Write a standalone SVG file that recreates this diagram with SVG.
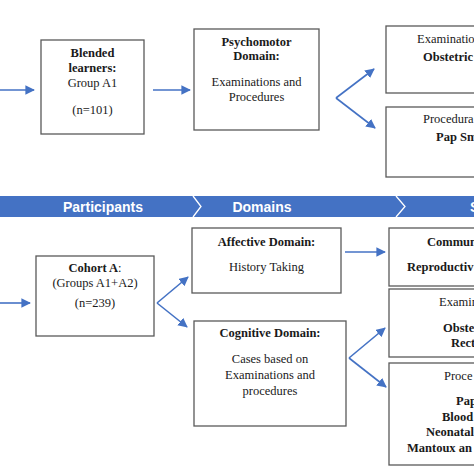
<svg xmlns="http://www.w3.org/2000/svg" width="474" height="474" viewBox="0 0 474 474">
<defs>
<marker id="ah" viewBox="0 0 10 10" refX="9" refY="5" markerWidth="6" markerHeight="6" markerUnits="strokeWidth" orient="auto">
<path d="M0,0 L10,5 L0,10 z" fill="#4472C4"/>
</marker>
<style>
.box{fill:#fff;stroke:#595959;stroke-width:1.3}
.t{font-family:"Liberation Serif","Times New Roman",serif;font-size:12.5px;fill:#1a1a1a}
.b{font-weight:bold}
.c{text-anchor:middle}
.con{fill:none;stroke:#4472C4;stroke-width:1.6;marker-end:url(#ah)}
.bt{font-family:"Liberation Sans",Arial,sans-serif;font-size:14px;font-weight:bold;fill:#fff;text-anchor:middle}
</style>
</defs>
<rect width="474" height="474" fill="#fff"/>

<g id="banner">
<rect x="0" y="196" width="474" height="21" fill="#4472C4"/>
<polyline points="193,196 201,206.5 193,217" fill="none" stroke="#fff" stroke-width="1.3"/>
<polyline points="396,196 405,206.5 396,217" fill="none" stroke="#fff" stroke-width="1.3"/>
<text class="bt" x="103" y="212">Participants</text>
<text class="bt" x="262" y="212">Domains</text>
<text class="bt" x="470" y="212" style="text-anchor:start">S</text>
</g>

<g id="connectors">
<line class="con" x1="0" y1="90" x2="34" y2="90"/>
<line class="con" x1="153" y1="90" x2="190" y2="90"/>
<line class="con" x1="336" y1="98" x2="374" y2="69"/>
<line class="con" x1="336" y1="98" x2="375" y2="128"/>
<line class="con" x1="0" y1="303" x2="30" y2="303"/>
<line class="con" x1="157" y1="303" x2="188" y2="277"/>
<line class="con" x1="157" y1="303" x2="187" y2="327"/>
<line class="con" x1="345" y1="252" x2="385" y2="252"/>
<line class="con" x1="349" y1="358" x2="385" y2="328"/>
<line class="con" x1="349" y1="358" x2="386" y2="387"/>
</g>

<g id="blended">
<rect class="box" x="41" y="40" width="103" height="94"/>
<text class="t b c" x="92.5" y="57">Blended</text>
<text class="t b c" x="92.5" y="72">learners:</text>
<text class="t c" x="92.5" y="87">Group A1</text>
<text class="t c" x="92.5" y="114">(n=101)</text>
</g>

<g id="psychomotor">
<rect class="box" x="194" y="29" width="125" height="101"/>
<text class="t b c" x="256.5" y="46">Psychomotor</text>
<text class="t b c" x="256.5" y="60">Domain:</text>
<text class="t c" x="256.5" y="86">Examinations and</text>
<text class="t c" x="256.5" y="101">Procedures</text>
</g>

<g id="examination-top">
<rect class="box" x="386" y="26" width="100" height="67"/>
<text class="t" x="417" y="43">Examinatio</text>
<text class="t b" x="423" y="61">Obstetric</text>
</g>

<g id="procedural-top">
<rect class="box" x="386" y="107" width="100" height="70"/>
<text class="t" x="423" y="123">Procedura</text>
<text class="t b" x="436" y="141">Pap Sm</text>
</g>

<g id="cohort">
<rect class="box" x="36" y="256" width="118" height="80"/>
<text class="t c" x="95" y="272"><tspan font-weight="bold">Cohort A</tspan>:</text>
<text class="t c" x="95" y="287">(Groups A1+A2)</text>
<text class="t c" x="95" y="307">(n=239)</text>
</g>

<g id="affective">
<rect class="box" x="192" y="228" width="149" height="65"/>
<text class="t b c" x="266.5" y="246">Affective Domain:</text>
<text class="t c" x="266.5" y="271">History Taking</text>
</g>

<g id="cognitive">
<rect class="box" x="194" y="321" width="152" height="105"/>
<text class="t b c" x="270" y="337">Cognitive Domain:</text>
<text class="t c" x="270" y="363">Cases based on</text>
<text class="t c" x="270" y="379">Examinations and</text>
<text class="t c" x="270" y="395">procedures</text>
</g>

<g id="communication">
<rect class="box" x="389" y="228" width="100" height="58"/>
<text class="t b" x="427" y="246">Commun</text>
<text class="t b" x="407" y="271">Reproductiv</text>
</g>

<g id="examination-bottom">
<rect class="box" x="389" y="289" width="100" height="68"/>
<text class="t" x="439" y="306">Examin</text>
<text class="t b" x="443" y="332">Obste</text>
<text class="t b" x="451" y="347">Rect</text>
</g>

<g id="procedural-bottom">
<rect class="box" x="389" y="363" width="100" height="102"/>
<text class="t" x="444" y="380">Proce</text>
<text class="t b" x="456" y="405">Pap</text>
<text class="t b" x="442" y="421">Blood</text>
<text class="t b" x="426" y="436">Neonatal</text>
<text class="t b" x="407" y="452">Mantoux an</text>
</g>
</svg>
